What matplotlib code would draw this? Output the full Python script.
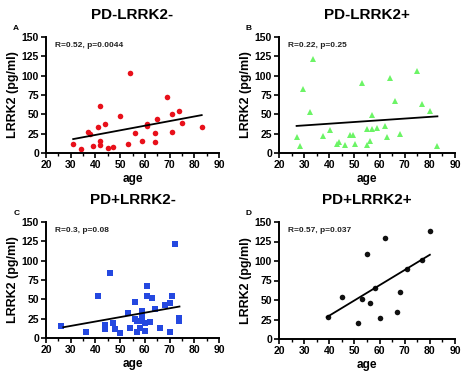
import matplotlib.pyplot as plt
from matplotlib.ticker import MultipleLocator

plt.rcParams['font.family'] = ['Liberation Sans', 'DejaVu Sans']

# panel A: PD-LRRK2-
age_a = [31, 34, 37, 38, 39, 41, 42, 42, 42, 44, 45, 47, 50, 53, 54, 56, 59, 61, 61,
         64, 64, 65, 69, 71, 71, 74, 75, 83]
val_a = [12, 5, 27, 24, 9, 33, 61, 15.5, 10, 37, 6.5, 7.5, 48, 12, 104, 25.5, 15, 38, 35,
         26.5, 14, 44, 72, 50, 27, 54, 39, 33.5]
fit_a = [(31, 83), (18, 49)]

# panel B: PD-LRRK2+
age_b = [27.3, 28.2, 29.4, 32.5, 33.4, 37.4, 40.3, 43.2, 44, 46.1, 48.2, 49.3, 50.1,
         53.2, 55.1, 55.1, 56.2, 57, 57, 59.1, 62.2, 63, 64.2, 66.1, 68, 75, 77, 80, 83]
val_b = [21, 9.5, 83, 52.5, 121.5, 21.5, 30, 11.5, 13.8, 10.8, 22.8, 22.8, 11.6,
         90, 30.6, 10.3, 15, 49, 30.6, 32.7, 35, 20.7, 96.5, 67, 24.6, 105.6, 64, 54, 8.6]
fit_b = [(27, 83), (35, 47.4)]

# panel C: PD+LRRK2-
age_c = [26, 36, 41, 44, 44, 44, 46, 47, 48, 50, 53, 54, 56, 56, 57, 57, 58, 59, 59, 59,
         60, 60, 61, 61, 62, 63, 64, 66, 68, 70, 70, 71, 72, 74, 74]
val_c = [15.6, 8.2, 54.6, 17, 12, 14.5, 83.5, 19, 11, 6.5, 32, 12.6, 46, 24.7, 22.5, 7.8,
         13, 35.5, 29, 22.5, 19.5, 8.7, 67.5, 54.6, 20.4, 52, 37.7, 13, 42.5, 45, 7.4,
         54.6, 121, 25.6, 22]
fit_c = [(27, 74), (13.9, 40.7)]

# panel D: PD+LRRK2+
age_d = [39.4, 45.2, 51.3, 53.2, 55.1, 56.2, 58, 60, 62, 67, 68, 71, 77, 80]
val_d = [28.5, 53.8, 20.5, 51.7, 109, 46, 65, 26.5, 130, 34, 60, 90, 101, 139]
fit_d = [(39, 80), (28, 108)]

panels = [
    ('A', 'PD-LRRK2-', age_a, val_a, fit_a, 'o', '#e8101a', 'R=0.52, p=0.0044'),
    ('B', 'PD-LRRK2+', age_b, val_b, fit_b, '^', '#6cf466', 'R=0.22, p=0.25'),
    ('C', 'PD+LRRK2-', age_c, val_c, fit_c, 's', '#2448e0', 'R=0.3, p=0.08'),
    ('D', 'PD+LRRK2+', age_d, val_d, fit_d, 'o', '#111111', 'R=0.57, p=0.037'),
]

# axes rectangles in pixels (left, top, right, bottom)
W, H = 474, 377
boxes = [(46, 37, 219, 153), (279, 37, 455, 153), (46, 222, 219, 338), (279, 222, 455, 339)]

fig = plt.figure(figsize=(W / 100, H / 100), dpi=100)

for (letter, title, x, y, fit, mk, col, stat), (l, t, r, b) in zip(panels, boxes):
    ax = fig.add_axes([l / W, 1 - b / H, (r - l) / W, (b - t) / H])
    ax.plot(x, y, linestyle='none', marker=mk, color=col, markersize=4.0, markeredgewidth=0)
    ax.plot(fit[0], fit[1], color='black', linewidth=1.3)
    ax.set_xlim(20, 90)
    ax.set_ylim(0, 150)
    ax.xaxis.set_major_locator(MultipleLocator(10))
    ax.xaxis.set_minor_locator(MultipleLocator(5))
    ax.yaxis.set_major_locator(MultipleLocator(25))
    for s in ['top', 'right']:
        ax.spines[s].set_visible(False)
    for s in ['left', 'bottom']:
        ax.spines[s].set_linewidth(1.4)
    ax.tick_params(which='major', length=3.5, width=1.2, labelsize=7.5, pad=1.5)
    ax.tick_params(which='minor', length=2, width=1)
    for lab in ax.get_xticklabels() + ax.get_yticklabels():
        lab.set_fontweight('bold')
    ax.set_xlabel('age', fontsize=8.5, fontweight='bold', labelpad=2)
    ax.set_ylabel('LRRK2 (pg/ml)', fontsize=9, fontweight='bold', labelpad=2)
    ax.set_title(title, fontsize=11, fontweight='bold', pad=13)
    ax.text(0.05, 0.96, stat, transform=ax.transAxes, fontsize=6, fontweight='bold',
            va='top', ha='left', color='#222222')
    ax.text(-0.19, 1.04, letter, transform=ax.transAxes, fontsize=6, fontweight='bold',
            va='bottom', ha='left')

fig.savefig('out.png', dpi=100)
